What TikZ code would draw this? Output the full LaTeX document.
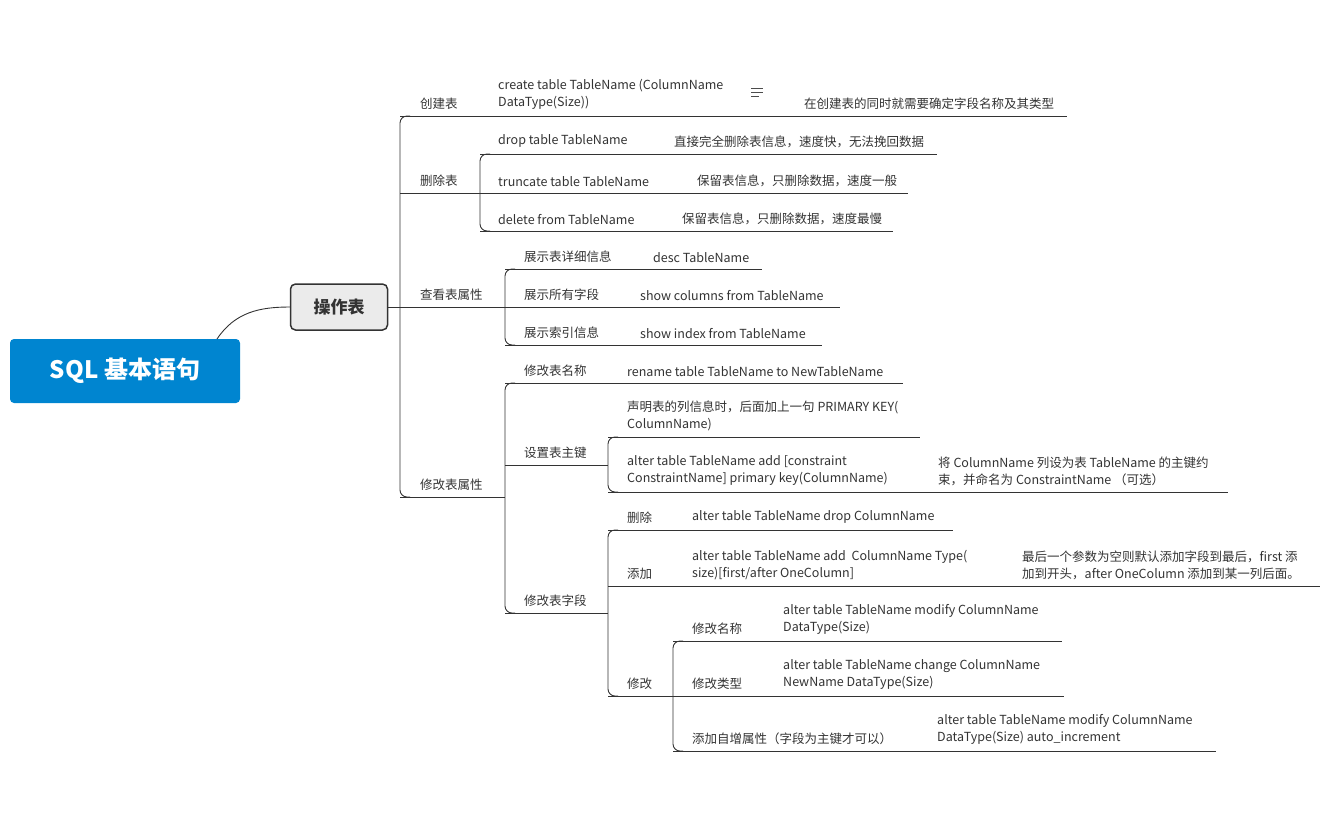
\documentclass[tikz,border=0pt]{standalone}
\usepackage{fontspec}
\setmainfont{Noto Sans CJK SC}
\begin{document}
\begin{tikzpicture}[x=1pt,y=-1pt,
  t/.style={anchor=south west,inner sep=0pt,align=left,text=black!80,font=\fontsize{12.5}{17}\selectfont},
  ln/.style={draw=black!80,line width=0.9pt},
  br/.style={draw=black!80,line width=0.9pt,rounded corners=7pt}]
\useasboundingbox (0,0) rectangle (1329,823);
% root
\node[fill={rgb,255:red,0;green,133;blue,208},rounded corners=4pt,minimum width=230pt,minimum height=64pt,text=white,font=\fontsize{24}{28}\selectfont\bfseries,inner sep=0pt] (root) at (125,371) {SQL 基本语句};
\node[fill=black!8,draw=black!80,line width=1.5pt,rounded corners=5pt,minimum width=97pt,minimum height=46pt,font=\fontsize{17}{20}\selectfont\bfseries,text=black!80,inner sep=0pt] (op) at (339,307) {操作表};
\coordinate (rc) at (217,339);
\draw[ln] (rc) .. controls (235,312) and (260,307) .. (op.west);
% main bracket
\coordinate (b0) at (400,307);
\draw[ln] (op.east) -- (b0);
\draw[br] (410,116) -- (400,116) -- (400,497) -- (410,497);
\draw[ln] (400,116) -- (1067,116);
\draw[ln] (400,193) -- (480,193);
\draw[ln] (400,307) -- (505,307);
\draw[ln] (400,497) -- (505,497);
\node[t] (a1) at (420,110) {创建表};
\node[t] (a2) at (420,187) {删除表};
\node[t] (a3) at (420,301) {查看表属性};
\node[t] (a4) at (420,491) {修改表属性};
\node[t] (c1) at (498,110) {create table TableName (ColumnName\\DataType(Size))};
\draw[black!70,line width=0.8pt] (751,88)--(763,88) (751,92)--(763,92) (751,96)--(759,96);
\node[t] (c2) at (804,110) {在创建表的同时就需要确定字段名称及其类型};
% delete
\draw[br] (490,154) -- (480,154) -- (480,231) -- (490,231);
\draw[ln] (480,154) -- (937,154);
\draw[ln] (480,193) -- (908,193);
\draw[ln] (480,231) -- (893,231);
\node[t] (d1) at (498,148) {drop table TableName};
\node[t] (d1n) at (674,148) {直接完全删除表信息，速度快，无法挽回数据};
\node[t] (d2) at (498,187) {truncate table TableName};
\node[t] (d2n) at (697,187) {保留表信息，只删除数据，速度一般};
\node[t] (d3) at (498,225) {delete from TableName};
\node[t] (d3n) at (682,225) {保留表信息，只删除数据，速度最慢};
% view
\draw[br] (515,269) -- (505,269) -- (505,345) -- (515,345);
\draw[ln] (505,269) -- (762,269);
\draw[ln] (505,307) -- (840,307);
\draw[ln] (505,345) -- (822,345);
\node[t] (v1) at (524,263) {展示表详细信息};
\node[t] (v1n) at (653,263) {desc TableName};
\node[t] (v2) at (524,301) {展示所有字段};
\node[t] (v2n) at (640,301) {show columns from TableName};
\node[t] (v3) at (524,339) {展示索引信息};
\node[t] (v3n) at (640,339) {show index from TableName};
% modify
\draw[br] (515,383) -- (505,383) -- (505,613) -- (515,613);
\draw[ln] (505,383) -- (903,383);
\draw[ln] (505,465) -- (608,465);
\draw[ln] (505,613) -- (608,613);
\node[t] (m1) at (524,377) {修改表名称};
\node[t] (m1n) at (627,377) {rename table TableName to NewTableName};
\node[t] (m2) at (524,459) {设置表主键};
\node[t] (m3) at (524,607) {修改表字段};
\draw[br] (618,437) -- (608,437) -- (608,492) -- (618,492);
\draw[ln] (608,437) -- (920,437);
\draw[ln] (608,492) -- (1228,492);
\node[t] (k1) at (627,431) {声明表的列信息时，后面加上一句 PRIMARY KEY(\\ColumnName)};
\node[t] (k2) at (627,486) {alter table TableName add [constraint\\ConstraintName] primary key(ColumnName)};
\node[t] (k2n) at (938,486) {将 ColumnName 列设为表 TableName 的主键约\\束，并命名为 ConstraintName （可选）};
\draw[br] (618,530) -- (608,530) -- (608,696) -- (618,696);
\draw[ln] (608,530) -- (953,530);
\draw[ln] (608,586) -- (1320,586);
\draw[ln] (608,696) -- (673,696);
\node[t] (f1) at (627,524) {删除};
\node[t] (f1n) at (692,524) {alter table TableName drop ColumnName};
\node[t] (f2) at (627,580) {添加};
\node[t] (f2n) at (692,580) {alter table TableName add\ \ ColumnName Type(\\size)[first/after OneColumn]};
\node[t] (f2m) at (1022,580) {最后一个参数为空则默认添加字段到最后，first 添\\加到开头，after OneColumn 添加到某一列后面。};
\node[t] (f3) at (627,690) {修改};
\draw[br] (683,641) -- (673,641) -- (673,751) -- (683,751);
\draw[ln] (673,641) -- (1062,641);
\draw[ln] (673,696) -- (1064,696);
\draw[ln] (673,751) -- (1216,751);
\node[t] (g1) at (692,635) {修改名称};
\node[t] (g1n) at (783,635) {alter table TableName modify ColumnName\\DataType(Size)};
\node[t] (g2) at (692,690) {修改类型};
\node[t] (g2n) at (783,690) {alter table TableName change ColumnName\\NewName DataType(Size)};
\node[t] (g3) at (692,745) {添加自增属性（字段为主键才可以）};
\node[t] (g3n) at (937,745) {alter table TableName modify ColumnName\\DataType(Size) auto\_increment};
\end{tikzpicture}
\end{document}
